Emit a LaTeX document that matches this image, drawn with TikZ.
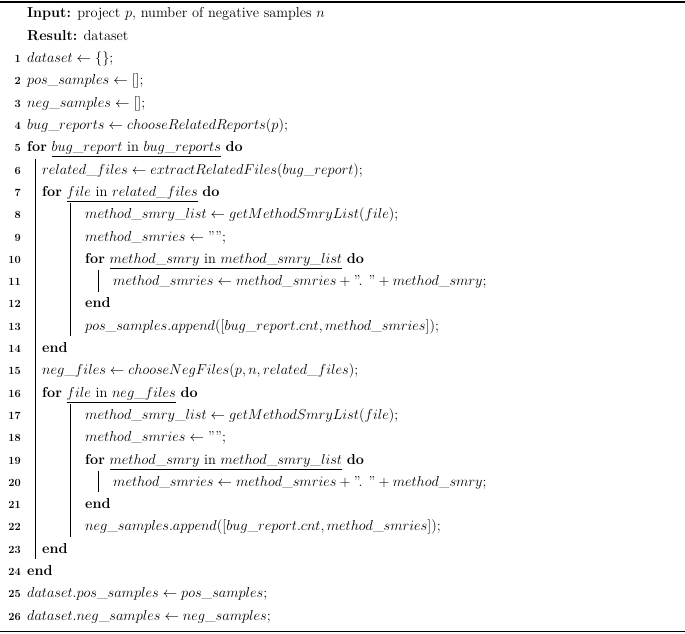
\documentclass[tikz,border=0pt]{standalone}
\usepackage{amsmath}
\begin{document}
\begin{tikzpicture}[x=1pt,y=-1pt,
  ln/.style={anchor=base west,inner sep=0pt,font=\fontsize{14.4}{17}\selectfont},
  num/.style={anchor=base east,inner sep=0pt,font=\fontsize{11}{13}\selectfont\bfseries},
  bar/.style={line width=0.5pt}]
\useasboundingbox (0,0) rectangle (685,634);
\draw[line width=1.2pt] (0,2) -- (685,2);
\draw[line width=0.8pt] (0,631) -- (685,631);
\newcommand\Ln[4]{% row, number, x, text
  \node[num] (n#1) at (21,{18+22.3*#1}) {#2};
  \node[ln] (t#1) at (#3,{18+22.3*#1}) {#4};}
\newcommand\vv[1]{#1}
\Ln{0}{}{27}{\textbf{Input:} project $p$, number of negative samples $n$}
\Ln{1}{}{27}{\textbf{Result:} dataset}
\Ln{2}{1}{27}{$\vv{dataset}\leftarrow\{\}$;}
\Ln{3}{2}{27}{$\vv{pos\_samples}\leftarrow[]$;}
\Ln{4}{3}{27}{$\vv{neg\_samples}\leftarrow[]$;}
\Ln{5}{4}{27}{$\vv{bug\_reports}\leftarrow\vv{chooseRelatedReports}(p)$;}
\Ln{6}{5}{27}{\textbf{for} \underline{$\vv{bug\_report}$ in $\vv{bug\_reports}$} \textbf{do}}
\Ln{7}{6}{42}{$\vv{related\_files}\leftarrow\vv{extractRelatedFiles}(\vv{bug\_report})$;}
\Ln{8}{7}{42}{\textbf{for} \underline{$\vv{file}$ in $\vv{related\_files}$} \textbf{do}}
\Ln{9}{8}{85}{$\vv{method\_smry\_list}\leftarrow\vv{getMethodSmryList}(\vv{file})$;}
\Ln{10}{9}{85}{$\vv{method\_smries}\leftarrow\text{""}$;}
\Ln{11}{10}{85}{\textbf{for} \underline{$\vv{method\_smry}$ in $\vv{method\_smry\_list}$} \textbf{do}}
\Ln{12}{11}{113}{$\vv{method\_smries}\leftarrow\vv{method\_smries}+\text{". "}+\vv{method\_smry}$;}
\Ln{13}{12}{85}{\textbf{end}}
\Ln{14}{13}{85}{$\vv{pos\_samples.append}([\vv{bug\_report.cnt},\vv{method\_smries}])$;}
\Ln{15}{14}{42}{\textbf{end}}
\Ln{16}{15}{42}{$\vv{neg\_files}\leftarrow\vv{chooseNegFiles}(p,n,\vv{related\_files})$;}
\Ln{17}{16}{42}{\textbf{for} \underline{$\vv{file}$ in $\vv{neg\_files}$} \textbf{do}}
\Ln{18}{17}{85}{$\vv{method\_smry\_list}\leftarrow\vv{getMethodSmryList}(\vv{file})$;}
\Ln{19}{18}{85}{$\vv{method\_smries}\leftarrow\text{""}$;}
\Ln{20}{19}{85}{\textbf{for} \underline{$\vv{method\_smry}$ in $\vv{method\_smry\_list}$} \textbf{do}}
\Ln{21}{20}{113}{$\vv{method\_smries}\leftarrow\vv{method\_smries}+\text{". "}+\vv{method\_smry}$;}
\Ln{22}{21}{85}{\textbf{end}}
\Ln{23}{22}{85}{$\vv{neg\_samples.append}([\vv{bug\_report.cnt},\vv{method\_smries}])$;}
\Ln{24}{23}{42}{\textbf{end}}
\Ln{25}{24}{27}{\textbf{end}}
\Ln{26}{25}{27}{$\vv{dataset.pos\_samples}\leftarrow\vv{pos\_samples}$;}
\Ln{27}{26}{27}{$\vv{dataset.neg\_samples}\leftarrow\vv{neg\_samples}$;}
% block bars
\draw[bar] (35,{18+22.3*6+7}) -- (35,{18+22.3*24+6});
\draw[bar] (70,{18+22.3*8+7}) -- (70,{18+22.3*14+6});
\draw[bar] (70,{18+22.3*17+7}) -- (70,{18+22.3*23+6});
\draw[bar] (98,{18+22.3*11+7}) -- (98,{18+22.3*12+6});
\draw[bar] (98,{18+22.3*20+7}) -- (98,{18+22.3*21+6});
\end{tikzpicture}
\end{document}
